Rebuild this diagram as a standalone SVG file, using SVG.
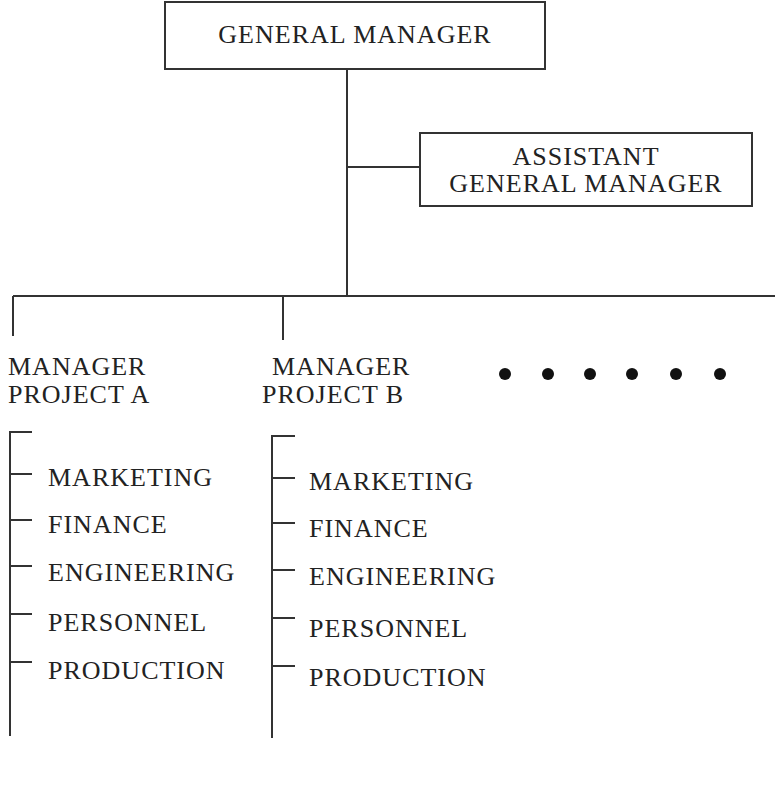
<svg xmlns="http://www.w3.org/2000/svg" width="775" height="788" viewBox="0 0 775 788">
<style>
text{font-family:"Liberation Serif","Times New Roman",serif;font-size:26px;letter-spacing:1px;fill:#222}
.ln{stroke:#333;stroke-width:2;fill:none}
.box{stroke:#333;stroke-width:2;fill:#fff}
</style>
<rect width="775" height="788" fill="#fff"/>
<g id="connectors">
<path class="ln" d="M347 69V296M347 167H420M13 296H775M13 296V336M283 296V340"/>
<path class="ln" d="M32 432H10V736M10 474H32M10 520H32M10 566H32M10 614H32M10 662H32"/>
<path class="ln" d="M295 436H272V738M272 478H295M272 523H295M272 570H295M272 618H295M272 666H295"/>
</g>
<g id="gm"><rect class="box" x="165" y="2" width="380" height="67"/><text x="355" y="43" text-anchor="middle">GENERAL MANAGER</text></g>
<g id="agm"><rect class="box" x="420" y="133" width="332" height="73"/><text x="586" y="165" text-anchor="middle">ASSISTANT</text><text x="586" y="192" text-anchor="middle">GENERAL MANAGER</text></g>
<g id="mgrA"><text x="8" y="375">MANAGER</text><text x="8" y="403">PROJECT  A</text></g>
<g id="mgrB"><text x="272" y="375">MANAGER</text><text x="262" y="403">PROJECT  B</text></g>
<g id="dots" fill="#111"><circle cx="505" cy="374" r="6"/><circle cx="548" cy="374" r="6"/><circle cx="590" cy="374" r="6"/><circle cx="632" cy="374" r="6"/><circle cx="676" cy="374" r="6"/><circle cx="720" cy="374" r="6"/></g>
<g id="deptA"><text x="48" y="486">MARKETING</text><text x="48" y="533">FINANCE</text><text x="48" y="581">ENGINEERING</text><text x="48" y="631">PERSONNEL</text><text x="48" y="679">PRODUCTION</text></g>
<g id="deptB"><text x="309" y="490">MARKETING</text><text x="309" y="537">FINANCE</text><text x="309" y="585">ENGINEERING</text><text x="309" y="637">PERSONNEL</text><text x="309" y="686">PRODUCTION</text></g>
</svg>
